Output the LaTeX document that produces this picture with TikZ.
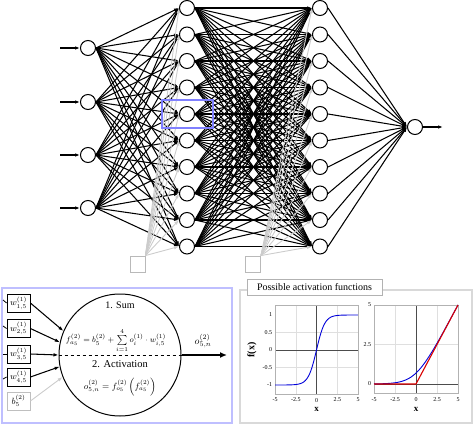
\documentclass[tikz,border=0pt]{standalone}
\usepackage{fontspec}
\setmainfont{Liberation Serif}
\usetikzlibrary{arrows.meta,backgrounds}
\begin{document}
\begin{tikzpicture}[x=1pt,y=-1pt,
  neuron/.style={circle,draw,line width=1pt,fill=white,minimum size=15pt,inner sep=0pt},
  conn/.style={line width=1.05pt,-{Latex[length=5pt,width=3.6pt]}},
  bconn/.style={line width=0.9pt,gray!40,-{Latex[length=5pt,width=3.6pt]}},
  biasbox/.style={draw=gray!55,line width=0.9pt,fill=white,minimum width=15pt,minimum height=16pt,inner sep=0pt},
  wbox/.style={draw,line width=0.8pt,fill=white,minimum width=23pt,minimum height=18pt,inner sep=0pt,font=\small},
  tick/.style={font=\fontsize{6}{7}\selectfont,inner sep=1pt},
  grid/.style={gray!25,line width=0.4pt},
  axis/.style={gray!60!black,line width=0.9pt},
  frame/.style={gray!60,line width=0.5pt},
]
\useasboundingbox (0,0) rectangle (474,425);

% ---------------- network ----------------
\foreach \i/\y in {1/48,2/102,3/155,4/208}{
  \node[neuron] (I\i) at (88,\y) {};
  \coordinate (in\i) at (60,\y);
}
\foreach \j in {1,...,10}{
  \node[neuron] (A\j) at (187,{8+(\j-1)*26.5}) {};
  \node[neuron] (B\j) at (320,{8+(\j-1)*26.5}) {};
}
\node[neuron] (O) at (415,127) {};
\coordinate (out) at (443,127);
\node[biasbox] (bA) at (137.5,264) {};
\node[biasbox] (bB) at (253,264) {};

\begin{pgfonlayer}{background}
\foreach \i in {1,...,4}{
  \draw[conn] (in\i) -- (I\i.west);
  \foreach \j in {1,...,10} \draw[conn] (I\i.east) -- (A\j.west);
}
\foreach \i in {1,...,10}{
  \foreach \j in {1,...,10} \draw[conn] (A\i.east) -- (B\j.west);
  \draw[conn] (B\i.east) -- (O.west);
}
\foreach \j in {1,...,10}{
  \draw[bconn] (bA.north east) -- (A\j.west);
  \draw[bconn] (bB.north east) -- (B\j.west);
}
\node[draw=blue!50!white,line width=1.2pt,minimum width=51pt,minimum height=28pt,inner sep=0pt] (hl) at (187.5,114) {};
\end{pgfonlayer}
\draw[conn] (O.east) -- (out);

% ---------------- neuron detail panel ----------------
\draw[blue!25!white,line width=1.6pt] (2,288) rectangle (232,423);
\node[circle,draw,line width=1pt,minimum size=122pt,inner sep=0pt] (N) at (120,355) {};
\node[wbox] (w1) at (18.5,303) {$w^{(1)}_{1,5}$};
\node[wbox] (w2) at (18.5,328.5) {$w^{(1)}_{2,5}$};
\node[wbox] (w3) at (18.5,354) {$w^{(1)}_{3,5}$};
\node[wbox] (w4) at (18.5,377) {$w^{(1)}_{4,5}$};
\node[wbox,draw=gray!50] (b5) at (18.5,401) {$b^{(2)}_{5}$};
\foreach \k/\y in {1/300,2/326,3/354,4/379}{
  \coordinate (s\k) at (3,\y);
  \draw[line width=0.8pt] (s\k) -- (w\k.west);
}
\draw[conn] (w1.east) -- (N.157);
\draw[conn] (w2.east) -- (N.168);
\draw[conn] (w3.east) -- (N.west);
\draw[conn] (w4.east) -- (N.191);
\draw[bconn] (b5.east) -- (N.201);
\draw[dashed,line width=0.8pt] (N.west) -- (N.east);
\coordinate (oend) at (227,355);
\draw[line width=2.4pt,-{Latex[length=7pt,width=6pt]}] (N.east) -- (oend);
\node (olab) at (203,341) {$o^{(2)}_{5,n}$};
\node[inner sep=1pt] (sumt) at (120,305) {1. Sum};
\node[inner sep=1pt] (sumf) at (116,341) {\footnotesize $f^{(2)}_{a_5}=b^{(2)}_5+\sum\limits_{i=1}^{4} o^{(1)}_i\cdot w^{(1)}_{i,5}$};
\node[inner sep=1pt] (actt) at (120,364) {\fontsize{10.5}{12}\selectfont 2. Activation};
\node[inner sep=1pt] (actf) at (120,387) {\small $o^{(2)}_{5,n}=f^{(2)}_{o_5}\left(f^{(2)}_{a_5}\right)$};

% ---------------- activation panel ----------------
\draw[gray!30,line width=1.2pt] (240,290) rectangle (472,423);
\node[draw=gray!60,fill=white,line width=0.6pt,minimum width=135pt,minimum height=16pt,inner sep=0pt] (title) at (314.5,287.5) {Possible activation functions};

\begin{scope}[shift={(316.5,350)},x=8.3pt,y=35pt]
  \foreach \t in {-2.5,2.5} \draw[grid] (\t,-1.25) -- (\t,1.28);
  \foreach \t in {-0.5,0.5} \draw[grid] (-5,\t) -- (5,\t);
  \draw[axis] (0,-1.25) -- (0,1.28);
  \draw[axis] (-5,0) -- (5,0);
  \draw[frame] (-5,-1.25) rectangle (5,1.28);
  \draw[blue!85!black,line width=0.9pt,domain=-5:5,samples=80,smooth] plot (\x,{tanh(\x)});
  \foreach \t in {-5,-2.5,0,2.5,5} \node[tick] at (\t,-1.43) {\t};
  \foreach \t in {1,0.5,0,-0.5,-1} \node[tick,anchor=east] at (-5.2,\t) {\t};
\end{scope}
\node[font=\bfseries\small] (xl1) at (316.5,409) {x};
\node[rotate=90,font=\bfseries] (fl) at (252,350) {f(x)};

\begin{scope}[shift={(416,384)},x=8.4pt,y=15.8pt]
  \foreach \t in {-2.5,2.5} \draw[grid] (\t,-0.57) -- (\t,5);
  \draw[grid] (-5,2.5) -- (5,2.5);
  \draw[axis] (0,-0.57) -- (0,5);
  \draw[axis] (-5,0) -- (5,0);
  \draw[frame] (-5,-0.57) rectangle (5,5);
  \draw[blue!85!black,line width=0.9pt,domain=-5:5,samples=80,smooth] plot (\x,{ln(1+exp(\x))});
  \draw[red!85!black,line width=1.1pt] (-5,0) -- (0,0) -- (5,5);
  \foreach \t in {-5,-2.5,0,2.5,5} \node[tick] at (\t,-1.0) {\t};
  \foreach \t in {5,2.5,0} \node[tick,anchor=east] at (-5.2,\t) {\t};
\end{scope}
\node[font=\bfseries\small] (xl2) at (416,409) {x};
\end{tikzpicture}
\end{document}
